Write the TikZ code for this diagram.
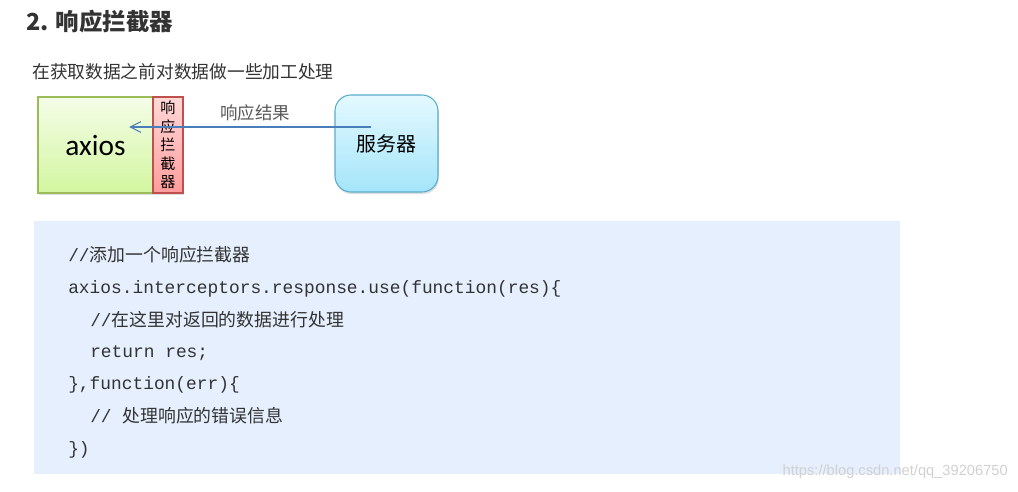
\documentclass[tikz,border=0pt]{standalone}
\usepackage{fontspec}
\setmainfont{Liberation Sans}
\newfontfamily\cjk{Noto Sans CJK SC}
\newfontfamily\mono{Liberation Mono}
\newfontfamily\calibrifont{Carlito}
\usetikzlibrary{shadows,arrows.meta}
\definecolor{txt}{HTML}{333333}
\definecolor{codebg}{RGB}{229,239,253}
\definecolor{arrowc}{HTML}{4A7EBB}
\definecolor{grtop}{HTML}{F4FDE8}
\definecolor{grbot}{HTML}{D3F6A0}
\definecolor{grline}{HTML}{9BBB59}
\definecolor{rdtop}{HTML}{FFD8D8}
\definecolor{rdbot}{HTML}{FF9C9C}
\definecolor{rdline}{HTML}{C0504D}
\definecolor{bltop}{HTML}{E4F9FF}
\definecolor{blbot}{HTML}{A4E5FA}
\definecolor{blline}{HTML}{5AACCC}
\tikzset{
  box/.style={inner sep=0pt, line width=0.8pt,
    drop shadow={shadow xshift=0.6pt, shadow yshift=-1.6pt, opacity=0.25}},
  codeline/.style={anchor=base west, inner sep=0pt, text=txt, font=\mono\fontsize{13.4}{15}\selectfont},
}
\newcommand{\zh}[1]{{\cjk #1}}
\begin{document}
\begin{tikzpicture}[x=0.75pt,y=-0.75pt]
\useasboundingbox (0,0) rectangle (1018,492);
\fill[white] (0,0) rectangle (1018,492);

\node[anchor=west, inner sep=0pt, text=txt, font=\cjk\bfseries\fontsize{17.6}{20}\selectfont] (title) at (26,22) {2. 响应拦截器};
\node[anchor=west, inner sep=0pt, text=txt, font=\cjk\fontsize{13.3}{16}\selectfont] (sub) at (32,72) {在获取数据之前对数据做一些加工处理};

\node[box, draw=grline, top color=grtop, bottom color=grbot,
      minimum width=86.25pt, minimum height=72pt, text depth=0pt,
      font=\calibrifont\fontsize{22}{26}\selectfont] (axios) at (95.5,145) {axios};
\node[box, draw=rdline, top color=rdtop, bottom color=rdbot,
      minimum width=22.5pt, minimum height=72pt, align=center,
      font=\cjk\fontsize{11.3}{13.9}\selectfont] (icpt) at (168,145) {响\\应\\拦\\截\\器};
\node[box, draw=blline, top color=bltop, bottom color=blbot, rounded corners=12pt,
      minimum width=77.25pt, minimum height=72.75pt,
      font=\cjk\fontsize{15}{18}\selectfont] (srv) at (386.5,143.5) {服务器};

\coordinate (afrom) at (371,127);
\coordinate (ato) at (129,127);
\draw[arrowc, line width=0.8pt, -{Straight Barb[length=8pt,width=8pt]}] (afrom) -- (ato);
\node[inner sep=0pt, text=black!65, font=\cjk\fontsize{13.1}{16}\selectfont] (reslabel) at (255,113) {响应结果};

\node[fill=codebg, inner sep=0pt, minimum width=649.5pt, minimum height=189.75pt, anchor=north west] (code) at (34,221) {};

\node[codeline] (l1) at (68,261) {//\zh{添加一个响应拦截器}};
\node[codeline] (l2) at (68,293) {axios.interceptors.response.use(function(res)\{};
\node[codeline] (l3) at (90,326) {//\zh{在这里对返回的数据进行处理}};
\node[codeline] (l4) at (90,357) {return res;};
\node[codeline] (l5) at (68,389) {\},function(err)\{};
\node[codeline] (l6) at (90,422) {// \zh{处理响应的错误信息}};
\node[codeline] (l7) at (68,454) {\})};

\node[anchor=east, inner sep=0pt, text=black!18, font=\fontsize{11}{13}\selectfont] (wm) at (1008,472) {https://blog.csdn.net/qq\_39206750};
\end{tikzpicture}
\end{document}
